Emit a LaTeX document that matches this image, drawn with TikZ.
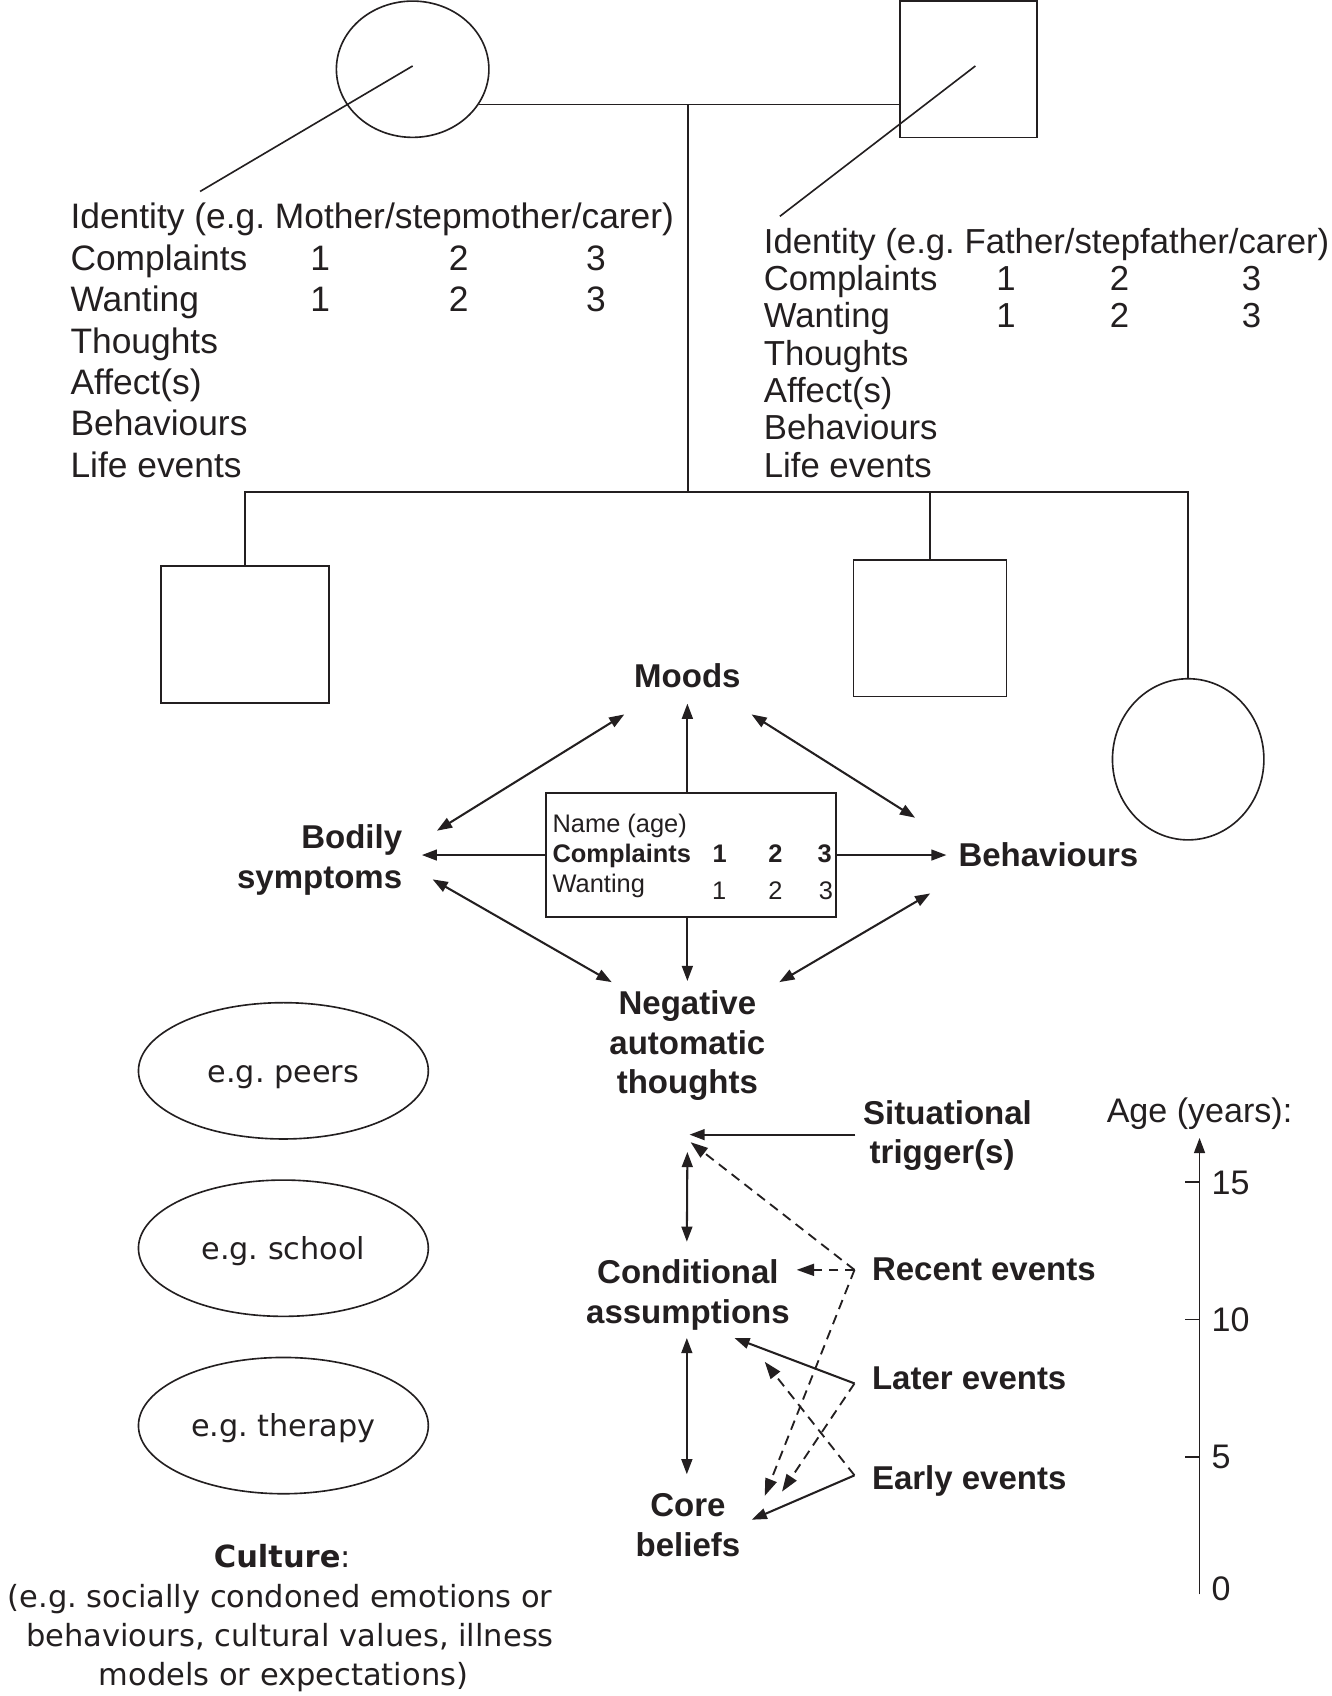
\documentclass[tikz,border=0pt]{standalone}
\usepackage{fontspec}
\setmainfont{Liberation Sans}
\newfontfamily\dejavu{DejaVu Sans}
\usetikzlibrary{arrows.meta,shapes.geometric,calc}
\definecolor{ink}{RGB}{35,31,32}
\begin{document}
\frenchspacing
\begin{tikzpicture}[x=1pt,y=-1pt,
 every node/.style={inner sep=0pt, text=ink},
 pline/.style={draw=ink, line width=1.5pt},
 arr/.style={draw=ink, line width=1.9pt, -{Triangle[length=14pt,width=10pt]}},
 darr/.style={draw=ink, line width=1.9pt, {Triangle[length=14pt,width=10pt]}-{Triangle[length=14pt,width=10pt]}},
 dsh/.style={draw=ink, line width=1.7pt, dash pattern=on 9pt off 6pt, -{Triangle[length=16pt,width=11pt]}},
 pa/.style={font=\fontsize{32.7}{38}\selectfont},
 pb/.style={font=\fontsize{32.1}{35}\selectfont},
 bl/.style={font=\fontsize{30.5}{36}\selectfont\bfseries},
 sm/.style={font=\fontsize{23.5}{28}\selectfont},
 smb/.style={font=\fontsize{23.5}{28}\selectfont\bfseries},
 ag/.style={font=\fontsize{31.5}{36}\selectfont},
 ell/.style={draw=ink, line width=1.5pt, ellipse, minimum width=268pt, minimum height=126pt, font=\dejavu\fontsize{28}{34}\selectfont, text height=21pt, text depth=0pt},
 cu/.style={font=\dejavu\fontsize{28.2}{36}\selectfont},
 sqr/.style={draw=ink, line width=1.5pt, rectangle},
 circ/.style={draw=ink, line width=1.5pt, ellipse}
]
\fill[white] (0,0) rectangle (1231,1568);
\useasboundingbox (0,0) rectangle (1231,1568);

% ---------- parents ----------
\node[circ, minimum width=141pt, minimum height=126pt] (mother) at (381.5,64) {};
\node[sqr, minimum width=126.5pt, minimum height=126pt] (father) at (895.25,64) {};

% ---------- children ----------
\node[sqr, minimum width=155pt, minimum height=127pt] (kid1) at (226.5,586.5) {};
\node[sqr, minimum width=141.5pt, minimum height=126.5pt] (kid2) at (859.75,580.75) {};
\node[circ, minimum width=140pt, minimum height=149pt] (kid3) at (1098.5,702) {};

\coordinate (sib) at (636,455);
\coordinate (mar) at (sib |- mother.-28.8);
\draw[pline] (mother.-28.8) -- (mother.-28.8 -| father.west);
\draw[pline] (mar) -- (sib);
\draw[pline] (kid1.north) -- (kid1.north |- sib) -- (kid3.north |- sib) -- (kid3.north);
\draw[pline] (kid2.north) -- (kid2.north |- sib);

% ---------- mother text ----------
\node[pa, anchor=base west] (mid) at (65,211.5) {Identity (e.g. Mother/stepmother/carer)};
\node[pa, anchor=base west] (mcom) at (65,249.8) {Complaints};
\node[pa, anchor=base west] (mwan) at (65,288.1) {Wanting};
\node[pa, anchor=base west] (mtho) at (65,326.4) {Thoughts};
\node[pa, anchor=base west] (maff) at (65,364.7) {Affect(s)};
\node[pa, anchor=base west] (mbeh) at (65,403) {Behaviours};
\node[pa, anchor=base west] (mlif) at (65,441.3) {Life events};
\foreach \n/\xx in {1/296,2/424,3/551}{
  \node[pa, anchor=base] (mc\n) at (\xx,249.8) {\n};
  \node[pa, anchor=base] (mw\n) at (\xx,288.1) {\n};
}
\coordinate (mlend) at (185,177);
\draw[pline] ($(mother.center)+(0,-3)$) -- (mlend);

% ---------- father text ----------
\node[pb, anchor=base west] (fid) at (706,234) {Identity (e.g. Father/stepfather/carer)};
\node[pb, anchor=base west] (fcom) at (706,268.5) {Complaints};
\node[pb, anchor=base west] (fwan) at (706,303) {Wanting};
\node[pb, anchor=base west] (ftho) at (706,337.5) {Thoughts};
\node[pb, anchor=base west] (faff) at (706,372) {Affect(s)};
\node[pb, anchor=base west] (fbeh) at (706,406.5) {Behaviours};
\node[pb, anchor=base west] (flif) at (706,441) {Life events};
\foreach \n/\xx in {1/930,2/1035,3/1157}{
  \node[pb, anchor=base] (fc\n) at (\xx,268.5) {\n};
  \node[pb, anchor=base] (fw\n) at (\xx,303) {\n};
}
\coordinate (flend) at (721,200);
\draw[pline] ($(father.center)+(6.5,-3)$) -- (flend);

% ---------- central box ----------
\node[sqr, minimum width=268pt, minimum height=115pt] (namebox) at (639,790.5) {};
\node[sm, anchor=base west] (nbname) at (510.7,770) {Name (age)};
\node[smb, anchor=base west] (nbcom) at (510.7,797) {Complaints};
\node[sm, anchor=base west] (nbwan) at (510.7,825.5) {Wanting};
\foreach \n/\xa/\xb in {1/665.4/665,2/717/717,3/762.5/763.5}{
  \node[smb, anchor=base] (nbc\n) at (\xa,797) {\n};
  \node[sm, anchor=base] (nbw\n) at (\xb,832) {\n};
}

% ---------- cycle labels ----------
\node[bl, anchor=base] (moods) at (635.5,636) {Moods};
\node[bl, anchor=base east] (bodily1) at (372,784) {Bodily};
\node[bl, anchor=base east] (bodily2) at (372,821) {symptoms};
\node[bl, anchor=base west] (behav) at (886,801) {Behaviours};
\node[bl, anchor=base] (nat1) at (635.5,938) {Negative};
\node[bl, anchor=base] (nat2) at (635.5,975) {automatic};
\node[bl, anchor=base] (nat3) at (635.5,1011) {thoughts};

\draw[arr] (moods.south |- namebox.north) -- ($(moods.south)+(0,14)$);
\draw[darr] ($(bodily1.base east)+(32,-16)$) -- ($(moods.south west)+(-9,24)$);
\draw[darr] ($(moods.south east)+(10,24)$) -- ($(behav.base west)+(-40,-45)$);
\draw[arr] (namebox.west) -- ($(bodily1.base east)!0.5!(bodily2.base east)+(18,-12)$);
\draw[arr] (namebox.east) -- ($(behav.base west)+(-11,-10.5)$);
\draw[darr] ($(bodily2.base east)+(28,-8)$) -- ($(nat1.base)+(-70,-30)$);
\draw[darr] ($(behav.base west)+(-26,25)$) -- ($(nat1.base)+(85,-30)$);
\draw[arr] (nat1.base |- namebox.south) -- ($(nat1.base)+(0,-31)$);

% ---------- lower part ----------
\node[bl, anchor=base] (sit1) at (876,1040) {Situational};
\node[bl, anchor=base] (sit2) at (871,1076) {trigger(s)};
\node[bl, anchor=base] (cond1) at (636,1187) {Conditional};
\node[bl, anchor=base] (cond2) at (636,1224) {assumptions};
\node[bl, anchor=base] (core1) at (636,1402) {Core};
\node[bl, anchor=base] (core2) at (636,1439) {beliefs};
\node[bl, anchor=base west] (recent) at (806,1184) {Recent events};
\node[bl, anchor=base west] (later) at (806,1285) {Later events};
\node[bl, anchor=base west] (early) at (806,1377) {Early events};

\coordinate (hub) at ($(nat3.base)+(2,38)$);
\draw[arr] ($(sit1.base west)+(-7,9)$) -- (hub);
\draw[darr] ($(hub)+(-2,16)$) -- ($(cond1.base)+(-1,-39)$);
\draw[darr] ($(cond2.base)+(-1,13)$) -- ($(core1.base)+(-1,-39)$);

\coordinate (rv) at ($(recent.base west)+(-16,-10)$);
\coordinate (lv) at ($(later.base west)+(-16,-6)$);
\coordinate (ev) at ($(early.base west)+(-16,-13)$);
\draw[dsh] (rv) -- ($(hub)+(1,7)$);
\draw[dsh] (rv) -- ($(cond1.base east)+(16.5,-13)$);
\draw[dsh] (rv) -- ($(core1.base)+(71,-19)$);
\draw[arr] (lv) -- ($(cond2.base)+(43,13)$);
\draw[dsh] (lv) -- ($(core1.base)+(87,-23)$);
\draw[arr] (ev) -- ($(core1.base)+(59,3)$);
\draw[dsh] (ev) -- ($(cond2.base)+(71,35)$);

% ---------- age axis ----------
\node[ag, anchor=base] (age) at (1109,1038) {Age (years):};
\coordinate (ax0) at (1109,1474);
\draw[draw=ink, line width=1.7pt, -{Triangle[length=14pt,width=10pt]}] (ax0) -- ($(age.base)+(0,14)$);
\foreach \v/\yy in {15/1093,10/1220,5/1347}{
  \draw[pline] (1096,\yy) -- (1109,\yy);
  \node[ag, anchor=base west] (tick\v) at (1120,\yy+11) {\v};
}
\node[ag, anchor=base west] (tick0) at (1120,1480) {0};

% ---------- contexts ----------
\node[ell] (peers) at (262,990) {e.g. peers};
\node[ell] (school) at (262,1154) {e.g. school};
\node[ell] (therapy) at (262,1318) {e.g. therapy};

\node[cu, anchor=base] (cult) at (261,1449) {{\bfseries Culture}:};
\node[cu, anchor=base] (cult1) at (259,1486) {(e.g. socially condoned emotions or};
\node[cu, anchor=base] (cult2) at (268,1522) {behaviours, cultural values, illness};
\node[cu, anchor=base] (cult3) at (262,1558) {models or expectations)};
\end{tikzpicture}
\end{document}
